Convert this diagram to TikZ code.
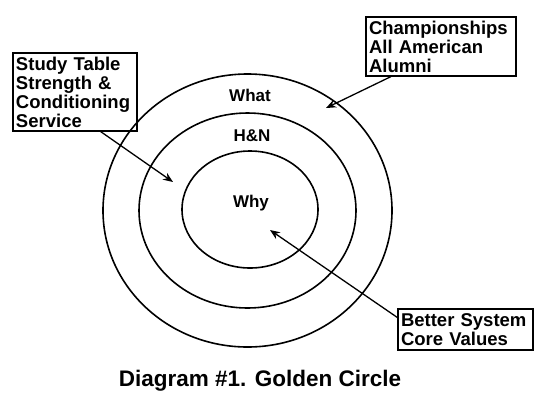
\documentclass[tikz,border=0pt]{standalone}
\usepackage{fontspec}
\setmainfont{Liberation Sans}
\usetikzlibrary{arrows.meta}
\tikzset{
  lbl/.style={font=\bfseries\fontsize{18.5}{19}\selectfont, draw, line width=1.3pt,
    align=left, inner xsep=3pt, inner ysep=1pt},
  ring/.style={font=\bfseries\fontsize{17}{19}\selectfont},
  arr/.style={line width=1.3pt, -{Stealth[length=10pt,width=8pt]}}
}
\begin{document}
\begin{tikzpicture}[x=1pt,y=-1pt]
  \useasboundingbox (0,0) rectangle (545,400);
  % the three rings
  \foreach \cx/\cy/\rx/\ry in {247.5/210.5/144.5/136.5, 247.5/210.5/108.5/97.5, 250/209.5/68/58.5}
    \draw[line width=1.6pt] (\cx,\cy) ellipse [x radius=\rx pt, y radius=\ry pt];
  \node[ring] (what) at (250,95) {What};
  \node[ring] (hn) at (252,136) {H\&N};
  \node[ring] (why) at (251,203) {Why};
  % boxes
  \node[lbl, text width=118pt, minimum height=78pt] (study) at (75,92)
    {Study Table\\Strength \&\\Conditioning\\Service};
  \node[lbl, text width=144pt, minimum height=59pt] (champ) at (441,46.5)
    {Championships\\All American\\Alumni};
  \node[lbl, text width=129pt, minimum height=41pt] (better) at (465.5,329.5)
    {Better System\\Core Values};
  \coordinate (whatpt) at (326,108);
  \coordinate (hnpt) at (173,182);
  \coordinate (whypt) at (270,230);
  \draw[arr] (study.-57) -- (hnpt);
  \draw[arr] (champ.211) -- (whatpt);
  \draw[arr] (better.170) -- (whypt);
  \node[font=\bfseries\fontsize{22.5}{24}\selectfont] (title) at (260,381) {Diagram \#1. Golden Circle};
\end{tikzpicture}
\end{document}
